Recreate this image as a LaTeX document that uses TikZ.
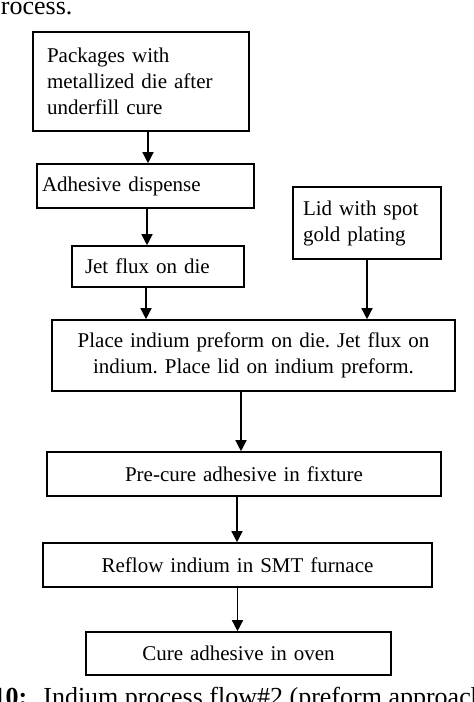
\documentclass[tikz,border=0pt]{standalone}
\usepackage{fontspec}
\setmainfont{Liberation Serif}
\usetikzlibrary{arrows.meta}
\frenchspacing
\begin{document}
\begin{tikzpicture}[x=0.5pt, y=-0.5pt,
  stepbox/.style={draw, line width=0.8pt, inner ysep=0pt, font=\fontsize{10.5}{13}\selectfont},
  leftbox/.style={stepbox, align=left},
  midbox/.style={stepbox, align=center, inner xsep=4pt},
  flow/.style={-{Triangle[length=5.5pt,width=5.5pt]}, line width=0.7pt},
  caption/.style={font=\fontsize{13}{15}\selectfont, inner sep=0pt, anchor=base west}]
\useasboundingbox (0,0) rectangle (474,702);
\clip (0,0) rectangle (474,702);
% caption fragments cut by the page edge
\node[caption] (capA) at (0.5,14) {rocess.};
\node[caption] (capB) at (-7.7,705) {\textbf{10:}\hspace{8pt}Indium process flow\#2 (preform approach)};
% left column
\node[leftbox, inner xsep=7pt, text width=94pt, minimum height=49.5pt] (pkg) at (141,81.5) {Packages with\\ metallized die after\\ underfill cure};
\node[leftbox, inner xsep=2.5pt, text width=103.5pt, minimum height=22pt] (adh) at (145.5,186) {Adhesive dispense};
\node[leftbox, inner xsep=6.5pt, text width=73pt, minimum height=20.5pt] (jet) at (158,266.5) {Jet flux on die};
% right column
\node[leftbox, inner xsep=5pt, text width=64pt, minimum height=36pt] (lid) at (367,223) {Lid with spot\\ gold plating};
% main line
\node[midbox, text width=193.5pt, minimum height=35.5pt] (place) at (253.5,355.5) {Place indium preform on die. Jet flux on\\ indium. Place lid on indium preform.};
\node[midbox, text width=189pt, minimum height=22pt] (precure) at (244,474) {Pre-cure adhesive in fixture};
\node[midbox, text width=186.5pt, minimum height=22pt] (reflow) at (237.5,565) {Reflow indium in SMT furnace};
\node[midbox, text width=144.5pt, minimum height=21.5pt] (cure) at (238.5,653.5) {Cure adhesive in oven};
% arrows
\draw[flow] ([xshift=3.5pt]pkg.south) -- ([xshift=3.5pt]pkg.south |- adh.north);
\draw[flow] ([xshift=0.75pt]adh.south) -- ([xshift=0.75pt]adh.south |- jet.north);
\draw[flow] ([xshift=-6pt]jet.south) -- ([xshift=-6pt]jet.south |- place.north);
\draw[flow] (lid.south) -- (lid.south |- place.north);
\draw[flow] ([xshift=-6.25pt]place.south) -- ([xshift=-6.25pt]place.south |- precure.north);
\draw[flow] ([xshift=-3.5pt]precure.south) -- ([xshift=-3.5pt]precure.south |- reflow.north);
\draw[flow] (reflow.south) -- (reflow.south |- cure.north);
\end{tikzpicture}
\end{document}
